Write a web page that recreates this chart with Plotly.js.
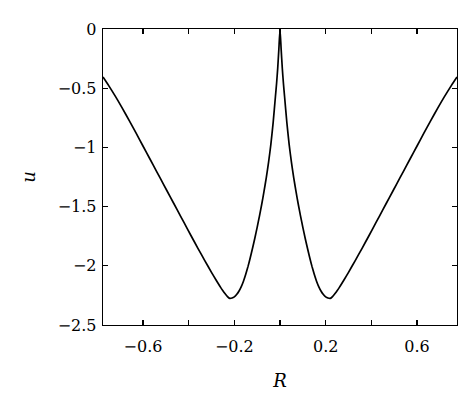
<!DOCTYPE html>
<html>
<head>
<meta charset="utf-8">
<script src="https://cdn.plot.ly/plotly-3.0.1.min.js"></script>
<style>html,body{margin:0;padding:0;background:#fff;}</style>
</head>
<body>
<div id="chart" style="width:474px;height:410px;"></div>
<script>
// R values (x) and u values (y)
const R = [
  -0.775, -0.75, -0.72, -0.69, -0.66, -0.63, -0.60, -0.57, -0.54, -0.51,
  -0.48, -0.45, -0.42, -0.39, -0.36, -0.33, -0.30, -0.28, -0.26, -0.25,
  -0.24, -0.23, -0.22, -0.21, -0.20, -0.19, -0.18, -0.17, -0.16, -0.15,
  -0.14, -0.13, -0.12, -0.11, -0.10, -0.09, -0.08, -0.07, -0.06, -0.05,
  -0.04, -0.03, -0.02, -0.015, -0.01, -0.005, 0,
  0.005, 0.01, 0.015, 0.02, 0.03, 0.04, 0.05, 0.06, 0.07, 0.08,
  0.09, 0.10, 0.11, 0.12, 0.13, 0.14, 0.15, 0.16, 0.17, 0.18,
  0.19, 0.20, 0.21, 0.22, 0.23, 0.24, 0.25, 0.26, 0.28, 0.30,
  0.33, 0.36, 0.39, 0.42, 0.45, 0.48, 0.51, 0.54, 0.57, 0.60,
  0.63, 0.66, 0.69, 0.72, 0.75, 0.775
];
const u = [
  -0.405, -0.478, -0.571, -0.670, -0.774, -0.880, -0.988, -1.096, -1.204, -1.312,
  -1.420, -1.528, -1.636, -1.744, -1.850, -1.954, -2.055, -2.120, -2.182, -2.210,
  -2.236, -2.260, -2.275, -2.272, -2.262, -2.243, -2.215, -2.178, -2.130, -2.072,
  -2.005, -1.930, -1.850, -1.765, -1.675, -1.580, -1.480, -1.372, -1.255, -1.125,
  -0.975, -0.790, -0.570, -0.460, -0.330, -0.170, 0,
  -0.170, -0.330, -0.460, -0.570, -0.790, -0.975, -1.125, -1.255, -1.372, -1.480,
  -1.580, -1.675, -1.765, -1.850, -1.930, -2.005, -2.072, -2.130, -2.178, -2.215,
  -2.243, -2.262, -2.272, -2.275, -2.260, -2.236, -2.210, -2.182, -2.120, -2.055,
  -1.954, -1.850, -1.744, -1.636, -1.528, -1.420, -1.312, -1.204, -1.096, -0.988,
  -0.880, -0.774, -0.670, -0.571, -0.478, -0.405
];
const xTickVals = [-0.6, -0.4, -0.2, 0, 0.2, 0.4, 0.6];
const xTickText = ['\u22120.6', '', '\u22120.2', '', '0.2', '', '0.6'];
const yTickVals = [0, -0.5, -1, -1.5, -2, -2.5];
const yTickText = ['0', '\u22120.5', '\u22121', '\u22121.5', '\u22122', '\u22122.5'];

const font = 'DejaVu Serif, Liberation Serif, serif';

Plotly.newPlot('chart', [{
  x: R, y: u, type: 'scatter', mode: 'lines',
  line: {color: '#000', width: 1.7, shape: 'spline', smoothing: 0.5},
  hoverinfo: 'skip'
}], {
  width: 474, height: 410,
  margin: {l: 103, r: 17, t: 29, b: 85},
  paper_bgcolor: '#fff', plot_bgcolor: '#fff',
  showlegend: false,
  font: {family: font, color: '#000', size: 16},
  xaxis: {
    range: [-0.775, 0.775], tickvals: xTickVals, ticktext: xTickText,
    ticks: 'inside', ticklen: 5, tickwidth: 1.2, tickcolor: '#000',
    showline: true, linecolor: '#000', linewidth: 1.3, mirror: 'allticks',
    showgrid: false, zeroline: false, ticklabelstandoff: 6,
    tickfont: {family: font, size: 16, color: '#000'},
    title: {text: '<i>R</i>', font: {family: font, size: 18, color: '#000'}, standoff: 20}
  },
  yaxis: {
    range: [-2.5, 0], tickvals: yTickVals, ticktext: yTickText,
    ticks: 'inside', ticklen: 5, tickwidth: 1.2, tickcolor: '#000',
    showline: true, linecolor: '#000', linewidth: 1.3, mirror: 'allticks',
    showgrid: false, zeroline: false, ticklabelstandoff: 2,
    tickfont: {family: font, size: 16, color: '#000'},
    title: {text: '<i>u</i>', font: {family: font, size: 18, color: '#000'}, standoff: 17}
  }
}, {staticPlot: true});
</script>
</body>
</html>
